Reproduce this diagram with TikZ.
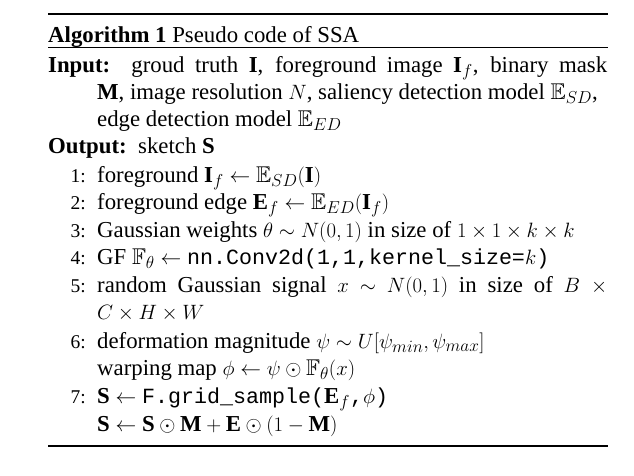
\documentclass[tikz,border=0pt]{standalone}
\usepackage{amsmath,amssymb}
\usepackage{fontspec}
\setmainfont{Liberation Serif}
\setmonofont[Scale=0.95]{Liberation Mono}
\begin{document}
\begin{tikzpicture}[x=1pt,y=-1pt,
  ln/.style={anchor=base west,inner sep=0pt,font=\fontsize{22.8}{27}\selectfont},
  num/.style={anchor=base east,inner sep=0pt,font=\fontsize{19.5}{27}\selectfont},
  rl/.style={line width=1.3pt}]
\useasboundingbox (0,0) rectangle (634,475);
\coordinate (tl) at (48,14); \coordinate (tr) at (608,14);
\coordinate (ml) at (48,47); \coordinate (mr) at (608,47);
\coordinate (bl) at (48,446); \coordinate (br) at (608,446);
\draw[rl] (tl) -- (tr);
\draw[line width=0.8pt] (ml) -- (mr);
\draw[rl] (bl) -- (br);
\node[ln] (title) at (48,42) {\textbf{Algorithm 1} Pseudo code of SSA};
\node[ln] (in1) at (48,72) {\hbox to 559pt{\textbf{Input:}\ \ groud truth $\mathbf{I}$, foreground image $\mathbf{I}_f$, binary mask}};
\node[ln] (in2) at (97,99) {$\mathbf{M}$, image resolution $N$, saliency detection model $\mathbb{E}_{SD}$,};
\node[ln] (in3) at (97,126) {edge detection model $\mathbb{E}_{ED}$};
\node[ln] (out) at (48,153) {\textbf{Output:}\ \ sketch $\mathbf{S}$};
\node[num] (n1) at (86,182) {1:};
\node[ln] (l1) at (97,182) {foreground $\mathbf{I}_f \leftarrow \mathbb{E}_{SD}(\mathbf{I})$};
\node[num] (n2) at (86,209) {2:};
\node[ln] (l2) at (97,209) {foreground edge $\mathbf{E}_f \leftarrow \mathbb{E}_{ED}(\mathbf{I}_f)$};
\node[num] (n3) at (86,237) {3:};
\node[ln] (l3) at (97,237) {Gaussian weights $\theta \sim N(0,1)$ in size of $1\times1\times k\times k$};
\node[num] (n4) at (86,264) {4:};
\node[ln] (l4) at (97,264) {GF $\mathbb{F}_\theta \leftarrow \texttt{nn.Conv2d(1,1,kernel\_size=}k\texttt{)}$};
\node[num] (n5) at (86,292) {5:};
\node[ln] (l5) at (97,292) {\hbox to 510pt{random Gaussian signal $x$ $\sim$ $N(0,1)$ in size of $B$ $\times$}};
\node[ln] (l5b) at (97,319) {$C\times H\times W$};
\node[num] (n6) at (86,348) {6:};
\node[ln] (l6) at (97,348) {deformation magnitude $\psi \sim U[\psi_{min},\psi_{max}]$};
\node[ln] (l6b) at (97,375) {warping map $\phi \leftarrow \psi \odot \mathbb{F}_\theta(x)$};
\node[num] (n7) at (86,403) {7:};
\node[ln] (l7) at (97,403) {$\mathbf{S} \leftarrow \texttt{F.grid\_sample(}\mathbf{E}_f\texttt{,}\phi\texttt{)}$};
\node[ln] (l7b) at (97,431) {$\mathbf{S} \leftarrow \mathbf{S}\odot\mathbf{M}+\mathbf{E}\odot(1-\mathbf{M})$};
\end{tikzpicture}
\end{document}
